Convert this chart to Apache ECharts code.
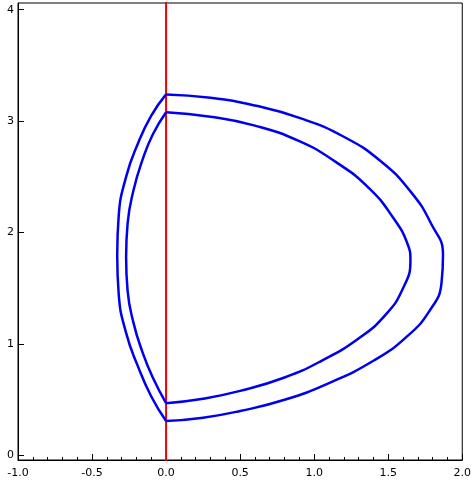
<!DOCTYPE html>
<html><head><meta charset="utf-8">
<script src="https://cdn.jsdelivr.net/npm/echarts@6/dist/echarts.min.js"></script>
<style>html,body{margin:0;padding:0;background:#fff}#c{width:474px;height:481px}</style>
</head><body><div id="c"></div>
<script>
// outer boundary (right D-shaped part, then left arc)
var outerRight = [[0,3.24],[0.3,3.21],[0.6,3.14],[0.9,3.03],[1.2,2.86],[1.45,2.64],[1.65,2.37],[1.79,2.08],[1.87,1.80],[1.86,1.55],[1.78,1.30],[1.62,1.06],[1.40,0.85],[1.1,0.65],[0.8,0.50],[0.5,0.40],[0.25,0.34],[0,0.31]];
var outerLeft = [[0,3.24],[-0.10,3.05],[-0.19,2.80],[-0.27,2.50],[-0.32,2.15],[-0.33,1.80],[-0.32,1.45],[-0.27,1.10],[-0.19,0.80],[-0.10,0.53],[0,0.31]];
var innerRight = [[0,3.08],[0.3,3.04],[0.6,2.96],[0.9,2.82],[1.15,2.63],[1.37,2.40],[1.53,2.14],[1.63,1.90],[1.65,1.75],[1.60,1.50],[1.48,1.26],[1.30,1.05],[1.05,0.85],[0.8,0.70],[0.5,0.58],[0.25,0.51],[0,0.47]];
var innerLeft = [[0,3.08],[-0.09,2.88],[-0.16,2.65],[-0.22,2.38],[-0.26,2.08],[-0.27,1.78],[-0.26,1.48],[-0.22,1.19],[-0.16,0.93],[-0.09,0.70],[0,0.47]];
var redLine = [[0,-0.05],[0,4.1]];

var myChart = echarts.init(document.getElementById('c'));
function blue(d){
  return {type:'line',data:d,smooth:true,symbol:'none',lineStyle:{color:'#0000ee',width:2.5},z:3};
}
var axisCommon = {
  axisLine:{show:true,onZero:false,lineStyle:{color:'#000',width:1}},
  axisTick:{show:true,inside:true,length:6,lineStyle:{color:'#000'}},
  minorTick:{show:true,splitNumber:5,length:3,lineStyle:{color:'#000'}},
  splitLine:{show:false},
  axisLabel:{color:'#000',fontSize:11,fontFamily:'DejaVu Sans'}
};
option = {
  animation:false,
  grid:{left:18,right:7,top:3,bottom:21,show:true,borderColor:'#000',borderWidth:1},
  xAxis:Object.assign({type:'value',min:-1,max:2,interval:0.5,
    axisLabel:Object.assign({},axisCommon.axisLabel,{formatter:function(v){return v.toFixed(1);}})},
    {axisLine:axisCommon.axisLine,axisTick:axisCommon.axisTick,minorTick:axisCommon.minorTick,splitLine:axisCommon.splitLine}),
  yAxis:Object.assign({type:'value',min:-0.04,max:4.06,
    axisLabel:Object.assign({},axisCommon.axisLabel,{margin:4,showMinLabel:false,showMaxLabel:false,formatter:function(v){return Math.abs(v-Math.round(v))<1e-6?String(Math.round(v)):'';}})},
    {axisLine:axisCommon.axisLine,axisTick:axisCommon.axisTick,splitLine:axisCommon.splitLine}),
  series:[
    blue(outerRight),blue(outerLeft),blue(innerRight),blue(innerLeft),
    {type:'line',data:redLine,symbol:'none',lineStyle:{color:'#ee0000',width:2},z:2}
  ]
};
myChart.setOption(option);
</script></body></html>
